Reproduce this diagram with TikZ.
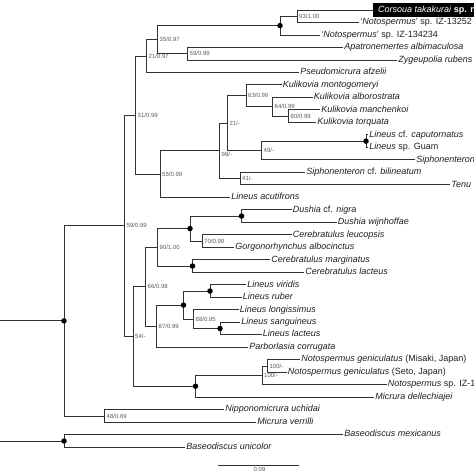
\documentclass[tikz,border=0pt]{standalone}
\usepackage{fontspec}
\setmainfont{Liberation Sans}
\definecolor{branchc}{RGB}{50,50,50}
\definecolor{suppc}{RGB}{90,90,90}
\definecolor{taxonc}{RGB}{30,30,30}

\begin{document}
\begin{tikzpicture}[x=1pt, y=-1pt,
  leaf/.style={anchor=west, inner sep=1.2pt, text height=6.4pt, text depth=1.9pt, text=taxonc, font=\fontsize{9}{10}\selectfont\itshape},
  supp/.style={anchor=west, inner sep=1pt, xshift=1pt, text=suppc, font=\fontsize{6}{7}\selectfont},
  branch/.style={draw=branchc, line width=0.9pt},
  dot/.style={circle, fill=black, inner sep=0pt, minimum size=5.5pt}]
  \useasboundingbox (0,0) rectangle (474,474);
  \clip (0,0) rectangle (474,474);

  % taxa
  \node[leaf, fill=black, text=white, minimum height=14pt, inner xsep=5pt] (corsoua) at (373,10)
    {Corsoua takakurai \textup{\bfseries sp. nov.}};
  \foreach \nm/\xe/\i/\txt in {
    nspa/359/2/{\textup{`}Notospermus\textup{' sp. IZ-13252}},
    nspb/320/3/{\textup{`}Notospermus\textup{' sp. IZ-134234}},
    apatro/343/4/{Apatronemertes albimaculosa},
    zygeu/397/5/{Zygeupolia rubens},
    pseudo/299/6/{Pseudomicrura afzelii},
    kmont/281.5/7/{Kulikovia montogomeryi},
    kalbo/312.5/8/{Kulikovia alborostrata},
    kmanch/320/9/{Kulikovia manchenkoi},
    ktorq/316/10/{Kulikovia torquata},
    lcaput/368/11/{Lineus \textup{cf.} caputornatus},
    lguam/368/12/{Lineus \textup{sp. Guam}},
    siph/415/13/{Siphonenteron},
    sbilin/305/14/{Siphonenteron \textup{cf.} bilineatum},
    tenu/450/15/{Tenu},
    lacut/230/16/{Lineus acutifrons},
    dnigra/291.5/17/{Dushia \textup{cf.} nigra},
    dwijn/336.5/18/{Dushia wijnhoffae},
    cleuc/291.5/19/{Cerebratulus leucopsis},
    gorgo/234/20/{Gorgonorhynchus albocinctus},
    cmarg/270/21/{Cerebratulus marginatus},
    clact/304/22/{Cerebratulus lacteus},
    lvirid/246/23/{Lineus viridis},
    lruber/241.5/24/{Lineus ruber},
    llongi/238.5/25/{Lineus longissimus},
    lsang/240/26/{Lineus sanguineus},
    llact/261.5/27/{Lineus lacteus},
    parbo/248/28/{Parborlasia corrugata},
    ngmis/300/29/{Notospermus geniculatus \textup{(Misaki, Japan)}},
    ngseto/286.5/30/{Notospermus geniculatus \textup{(Seto, Japan)}},
    nspc/386.5/31/{Notospermus \textup{sp. IZ-1}},
    mdelle/374/32/{Micrura dellechiajei},
    nippo/224/33/{Nipponomicrura uchidai},
    mverr/256/34/{Micrura verrilli},
    bmex/343/35/{Baseodiscus mexicanus},
    buni/185/36/{Baseodiscus unicolor}}
    \node[leaf] (\nm) at (\xe,{10+12.49*(\i-1)}) {\txt};

  % split points
  \foreach \nm/\xx/\yy in {n93/297/16.25, d1/280/25.6, n59a/187.5/53.75, n35/157.5/39.7,
      n21a/146.5/56.1, n60/288.5/116.15, n64/272.5/106.8, n63/246/95.85, d2/366/141.15,
      n49/261.5/150.5, n21b/227.5/123.2, n41/240/178.65, n98/219.5/150.9, n55/160/174.1,
      n31/135.5/115.1, d3/241.5/216.05, n70/202/241.05, d4/190/228.55, d5/192.5/266.05,
      n90/157.5/247.3, d6/210/291.05, d7/220/328.5, n88/193.5/319.15, d8/183.5/305.1,
      n87/156.5/326.15, n66/145.5/286.7, n100a/267.5/365.95, n100b/262/375.3,
      d9/195.5/386.25, n54/133/336.5, n59b/124.5/225.8, n48/104.5/415.95,
      d10/64/320.9, d11/64/441}
    \coordinate (\nm) at (\xx,\yy);
  \coordinate (rootA) at (0,320.9);
  \coordinate (rootB) at (0,441);

  % branches
  \foreach \p/\c in {n93/corsoua.west, n93/nspa.west, d1/n93, d1/nspb.west,
      n59a/apatro.west, n59a/zygeu.west, n35/d1, n35/n59a, n21a/n35, n21a/pseudo.west,
      n60/kmanch.west, n60/ktorq.west, n64/kalbo.west, n64/n60, n63/kmont.west, n63/n64,
      d2/lcaput.west, d2/lguam.west, n49/d2, n49/siph.west, n21b/n63, n21b/n49,
      n41/sbilin.west, n41/tenu.west, n98/n21b, n98/n41, n55/n98, n55/lacut.west,
      n31/n21a, n31/n55, d3/dnigra.west, d3/dwijn.west, n70/cleuc.west, n70/gorgo.west,
      d4/d3, d4/n70, d5/cmarg.west, d5/clact.west, n90/d4, n90/d5,
      d6/lvirid.west, d6/lruber.west, d7/lsang.west, d7/llact.west, n88/llongi.west, n88/d7,
      d8/d6, d8/n88, n87/d8, n87/parbo.west, n66/n90, n66/n87,
      n100a/ngmis.west, n100a/ngseto.west, n100b/n100a, n100b/nspc.west,
      d9/n100b, d9/mdelle.west, n54/n66, n54/d9, n59b/n31, n59b/n54,
      n48/nippo.west, n48/mverr.west, d10/n59b, d10/n48, d11/bmex.west, d11/buni.west}
    \draw[branch] (\p) |- (\c);
  \draw[branch] (rootA) -- (d10);
  \draw[branch] (rootB) -- (d11);
  \foreach \d in {d1,d2,d3,d4,d5,d6,d7,d8,d9,d10,d11}
    \node[dot] (\d-m) at (\d) {};

  % support values
  \foreach \n/\t in {n93/{93/1.00}, n35/{35/0.97}, n21a/{21/0.97}, n59a/{59/0.99},
      n63/{63/0.99}, n64/{64/0.99}, n60/{60/0.99}, n21b/{21/-}, n49/{49/-}, n41/{41/-},
      n55/{55/0.99}, n31/{31/0.99}, n59b/{59/0.99}, n90/{90/1.00}, n70/{70/0.99},
      n66/{66/0.98}, n88/{88/0.95}, n87/{87/0.99}, n54/{54/-}, n100a/{100/-},
      n100b/{100/-}, n48/{48/0.69}}
    \node[supp] (\n-s) at (\n) {\t};
  \node[supp, yshift=-3pt] (n98-s) at (n98) {98/-};

  % scale
  \coordinate (sbA) at (218,465);
  \coordinate (sbB) at (299,465);
  \draw[branch] (sbA) -- (sbB);
  \node[supp, anchor=north, xshift=0pt] (sbtxt) at (258.5,466.5) {0.09};
\end{tikzpicture}
\end{document}
